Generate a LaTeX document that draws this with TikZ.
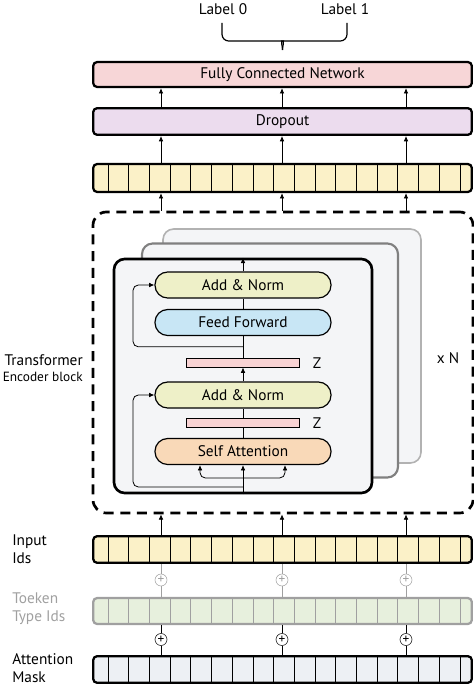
\documentclass[tikz,border=0pt]{standalone}
\usepackage{fontspec}
\setmainfont{PT Sans}
\usetikzlibrary{arrows.meta,decorations.pathreplacing,calc}
\definecolor{fcnpink}{HTML}{F7D6D7}
\definecolor{droplilac}{HTML}{ECDCEE}
\definecolor{tokyellow}{HTML}{FBF1C8}
\definecolor{normgreen}{HTML}{EEF0C8}
\definecolor{ffblue}{HTML}{C8E6F5}
\definecolor{attpeach}{HTML}{F9D9B8}
\definecolor{zpink}{HTML}{F8D3D4}
\definecolor{cardgray}{HTML}{F4F5F7}
\definecolor{typegreen}{HTML}{E7F0DD}
\definecolor{maskgray}{HTML}{EDF0F4}
\definecolor{fadegray}{HTML}{A0A0A0}
\tikzset{
  txt/.style={font=\fontsize{11.5}{13.5}\selectfont},
  bar/.style={draw, line width=1.7pt, rounded corners=3pt, minimum width=284pt,
    minimum height=20pt, inner sep=0pt, txt},
  layer/.style={draw, line width=0.9pt, rounded corners=9.5pt, minimum width=132pt,
    minimum height=19.5pt, inner sep=0pt, txt},
  zbar/.style={draw, line width=0.6pt, fill=zpink, minimum width=85pt,
    minimum height=6.8pt, inner sep=0pt},
  card/.style={rounded corners=8pt, minimum width=193.5pt, minimum height=175.5pt,
    fill=cardgray},
  plus/.style={circle, draw, fill=white, inner sep=0pt, minimum size=9pt,
    font=\fontsize{10}{10}\selectfont},
  cell/.style={line width=0.5pt},
  link/.style={line width=0.6pt},
  >={Latex[length=4pt,width=3.5pt]}
}
\begin{document}
\begin{tikzpicture}[x=0.75pt,y=-0.75pt]
  \useasboundingbox (0,0) rectangle (474,685);
  \coordinate (c1) at (161,0);
  \coordinate (c2) at (282,0);
  \coordinate (c3) at (406,0);

  % top head
  \node[txt] (lab0) at (223,9) {Label 0};
  \node[txt] (lab1) at (345,9) {Label 1};
  \draw[link, line width=0.9pt, rounded corners=5pt]
    (222,23) |- (276,41) to[out=0,in=90] (282.5,50) coordinate (tip);
  \draw[link, line width=0.9pt, rounded corners=5pt]
    (347,23) |- (289,41) to[out=180,in=90] (tip);
  \node[bar, fill=fcnpink, minimum height=18.75pt] (fcn) at (282.5,74.5) {Fully Connected Network};
  \node[bar, fill=droplilac] (drop) at (282.5,121.5) {Dropout};
  \node[bar, fill=tokyellow, minimum height=21pt] (out) at (282.5,178) {};
  \foreach \i in {0,...,17}
    \draw[cell] (108+20.7*\i,165) -- (108+20.7*\i,191);

  % encoder stack
  \node[draw, line width=2pt, dash pattern=on 7.5pt off 5pt, rounded corners=10pt,
    minimum width=285pt, minimum height=225.75pt] (stack) at (283,362.5) {};
  \node[card, draw=black!30, line width=1.2pt] (back) at (292,346) {};
  \node[card, draw=black!50, line width=1.6pt, minimum width=192pt] (mid) at (270,360.5) {};
  \node[card, draw=black, line width=2pt] (front) at (243,376) {};

  \node[layer, fill=normgreen] (an2) at (243,285) {Add \& Norm};
  \node[layer, fill=ffblue] (ff) at (243,322.5) {Feed Forward};
  \node[zbar] (z2) at (243,362.5) {};
  \node[layer, fill=normgreen] (an1) at (243,395) {Add \& Norm};
  \node[zbar] (z1) at (243,423) {};
  \node[layer, fill=attpeach] (sa) at (243,451.5) {Self Attention};
  \node[txt] (z2lab) at (317,363) {Z};
  \node[txt] (z1lab) at (317,423) {Z};
  \coordinate (split) at (243,478);
  \coordinate (res) at (243,487);

  \begin{scope}[link]
    \draw (sa) -- (z1);
    \draw (z1) -- (an1);
    \draw[->] (an1) -- (z2);
    \draw (z2) -- (ff);
    \draw (ff) -- (an2);
    \draw[->] (an2) -- (front.north);
    \draw[->] (front.south) -- (sa);
    \draw[->, rounded corners=4pt] (split) -| (sa.south -| 200,0);
    \draw[->, rounded corners=4pt] (split) -| (sa.south -| 285,0);
    \draw[->, rounded corners=4pt] ($(ff.south)!0.5!(z2.north)$) -| (133,285) -- (an2.west);
    \draw[->, rounded corners=4pt] (res) -| (133,395) -- (an1.west);
  \end{scope}

  \node[txt, anchor=east, align=right, inner sep=0pt] (enclab) at (83,368)
    {Transformer\\[-1pt]{\fontsize{10}{12}\selectfont Encoder block}};
  \node[txt] (nlab) at (448,358) {x N};

  % inputs
  \node[bar, fill=tokyellow] (input) at (282.5,549.5) {};
  \foreach \i in {0,...,17}
    \draw[cell] (108+20.7*\i,537) -- (108+20.7*\i,562);
  \node[bar, draw=fadegray, fill=typegreen, minimum height=19.5pt] (type) at (282.5,611) {};
  \foreach \i in {0,...,17}
    \draw[cell, fadegray] (108+20.7*\i,599) -- (108+20.7*\i,623);
  \node[bar, fill=maskgray] (mask) at (282.5,669.5) {};
  \foreach \i in {0,...,17}
    \draw[cell] (108+20.7*\i,657) -- (108+20.7*\i,682);

  \node[txt, anchor=west, align=left, inner sep=0pt] (inlab) at (12,549) {Input\\Ids};
  \node[txt, anchor=west, align=left, inner sep=0pt, fadegray] (typelab) at (12,609) {Toeken\\Type Ids};
  \node[txt, anchor=west, align=left, inner sep=0pt] (masklab) at (12,668) {Attention\\Mask};

  \foreach \c [count=\k] in {c1,c2,c3} {
    \draw[link, ->] (out.north -| \c) -- (drop.south -| \c);
    \draw[link, ->] (drop.north -| \c) -- (fcn.south -| \c);
    \draw[link, ->] (stack.north -| \c) -- (out.south -| \c);
    \draw[link, ->] (input.north -| \c) -- (stack.south -| \c);
    \node[plus, draw=fadegray, text=fadegray] (pt\k) at ($(\c)+(0,580)$) {+};
    \draw[link, fadegray] (type.north -| \c) -- (pt\k) -- (input.south -| \c);
    \node[plus] (pm\k) at ($(\c)+(0,639.5)$) {+};
    \draw[link] (mask.north -| \c) -- (pm\k) -- (type.south -| \c);
  }
\end{tikzpicture}
\end{document}
